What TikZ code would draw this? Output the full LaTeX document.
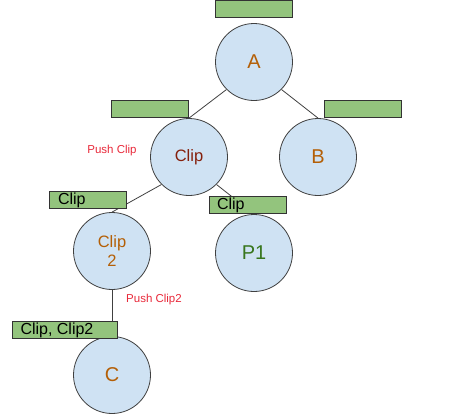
\documentclass[tikz,border=0pt]{standalone}
\usepackage{fontspec}
\setmainfont{Liberation Sans}
\definecolor{kreisblau}{HTML}{CFE2F3}
\definecolor{balkengruen}{HTML}{93C47D}
\definecolor{braun}{HTML}{B45F06}
\definecolor{dunkelrot}{HTML}{85200C}
\definecolor{gruen}{HTML}{38761D}
\definecolor{rot}{HTML}{E8293A}
\newcommand{\balkentext}[2]{\makebox[#1][l]{#2}}
\begin{document}
\begin{tikzpicture}[x=1pt,y=-1pt,
    kreis/.style={circle,draw=black!75,line width=0.8pt,fill=kreisblau,minimum size=77pt,inner sep=0pt,text=braun,font=\fontsize{20}{22}\selectfont},
    balken/.style={draw=black!80,line width=0.8pt,fill=balkengruen,minimum width=77pt,minimum height=17pt,inner xsep=8pt,inner ysep=0pt,text height=12pt,text depth=2pt,font=\fontsize{16}{18}\selectfont},
    kante/.style={-,line width=0.8pt,black!75},
    hinweis/.style={text=rot,font=\fontsize{11.5}{13}\selectfont}]
        \useasboundingbox (0,0) rectangle (474,418);
        %Kreise
        \node[kreis] (A) at (254,62) {A};
        \node[kreis,text=dunkelrot,font=\fontsize{16.5}{19}\selectfont] (Clip) at (189,157) {Clip};
        \node[kreis] (B) at (318,157) {B};
        \node[kreis,align=center,font=\fontsize{16.5}{19}\selectfont] (Clip2) at (112,251) {Clip\\2};
        \node[kreis,text=gruen] (P1) at (254,253) {P1};
        \node[kreis] (C) at (112,375) {C};
        
        %Kanten
        \draw[kante] (A.south west) -- (Clip.north);
        \draw[kante] (A.south east) -- (B.north);
        \draw[kante] (Clip.south west) -- (Clip2.north);
        \draw[kante] (Clip.south east) -- (P1.north);
        \draw[kante] (Clip2.south) -- (C.north);
        
        %Balken
        \node[balken] (balkenA) at (253.5,8.5) {};
        \node[balken] (balkenClip) at (150,108.5) {};
        \node[balken] (balkenB) at (362.5,108.5) {};
        \node[balken] (balkenClipZwei) at (88,199.5) {\balkentext{60pt}{Clip}};
        \node[balken] (balkenPEins) at (247.5,204.5) {\balkentext{61pt}{Clip}};
        \node[balken,inner xsep=8.5pt] (balkenC) at (64.5,329.5) {\balkentext{88pt}{Clip, Clip2}};
        
        %Hinweise
        \node[hinweis] (pushClip) at (112,151) {Push Clip};
        \node[hinweis] (pushClipZwei) at (154,300) {Push Clip2};
        
    \end{tikzpicture}
\end{document}
